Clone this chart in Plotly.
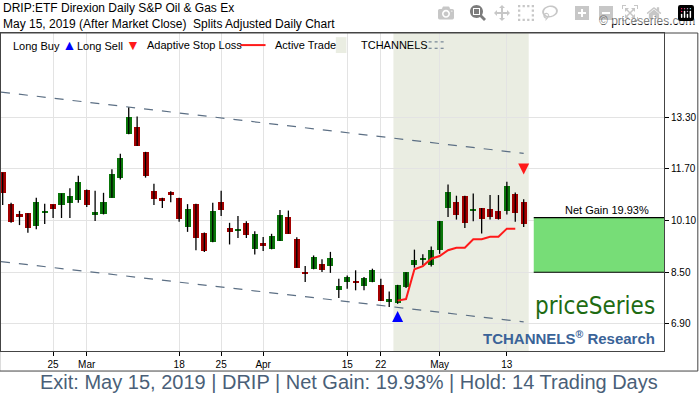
import plotly.graph_objects as go

# daily OHLC, Feb 14 .. May 15 2019 (trading days)
opens = [11.59, 10.60, 10.29, 10.32, 9.93, 10.33, 10.60, 10.57, 10.64, 10.73, 11.06, 10.27, 10.29,
         10.81, 11.41, 12.77, 13.01, 12.21, 11.02, 10.81, 10.97, 10.81, 9.91, 10.60, 9.73, 9.43,
         10.68, 9.87, 9.77, 10.04, 9.22, 9.39, 9.21, 9.47, 10.22, 9.53, 8.52, 8.59, 8.76, 8.68,
         7.94, 8.19, 8.21, 8.07, 8.19, 8.11, 7.59, 7.54, 8.04, 8.71, 8.89, 8.71, 9.18, 10.49,
         10.66, 10.87, 10.41, 10.49, 10.47, 10.41, 10.39, 10.91, 10.66]
closes = [10.94, 10.06, 10.20, 9.87, 10.68, 10.41, 10.45, 10.94, 10.87, 11.30, 10.57, 10.37, 10.66,
          11.55, 12.03, 13.32, 12.41, 11.49, 10.76, 10.70, 10.91, 10.16, 10.47, 9.56, 9.15, 10.40,
          10.42, 9.76, 9.85, 9.65, 9.69, 9.31, 9.62, 10.26, 9.69, 8.64, 8.47, 8.97, 8.58, 8.94,
          8.07, 8.36, 8.17, 8.32, 8.58, 7.61, 7.67, 8.11, 8.50, 8.89, 8.95, 9.20, 10.09, 10.99,
          10.27, 10.04, 10.47, 10.16, 10.22, 10.16, 11.18, 10.32, 9.98]
highs = [11.59, 10.65, 10.40, 10.33, 10.81, 10.62, 10.60, 10.94, 11.10, 11.49, 11.06, 11.02, 10.96,
         11.69, 12.17, 13.60, 13.32, 12.23, 11.24, 10.81, 11.01, 10.81, 10.61, 10.62, 9.73, 10.65,
         11.02, 10.03, 10.24, 10.08, 9.77, 9.59, 9.69, 10.43, 10.41, 9.58, 8.69, 9.02, 8.90, 9.13,
         8.30, 8.40, 8.56, 8.35, 8.61, 8.30, 7.90, 8.11, 8.50, 9.20, 9.06, 9.30, 10.09, 11.22,
         10.87, 10.87, 10.94, 10.49, 10.89, 10.89, 11.30, 10.97, 10.76]
lows = [10.58, 10.03, 9.96, 9.72, 9.83, 9.99, 10.18, 10.18, 10.18, 10.65, 10.52, 10.09, 10.29,
        10.81, 11.37, 12.77, 12.41, 11.43, 10.58, 10.49, 10.67, 10.06, 9.75, 9.18, 9.13, 9.43,
        10.24, 9.36, 9.56, 9.56, 9.05, 9.16, 9.21, 9.47, 9.69, 8.64, 8.20, 8.59, 8.51, 8.48,
        7.70, 7.99, 7.94, 7.94, 8.19, 7.61, 7.42, 7.52, 8.01, 8.64, 8.72, 8.68, 9.07, 10.21,
        10.13, 9.87, 10.08, 9.70, 10.13, 10.13, 10.29, 10.06, 9.90]

# adaptive stop loss during the active trade (from entry day to exit day)
stop_start = 47
stop_loss = [7.62, 7.67, 8.59, 8.69, 8.92, 9.00, 9.18, 9.26, 9.26, 9.52, 9.52, 9.60, 9.60, 9.85, 9.85]

buy_idx, buy_price = 47, 7.30
sell_idx, sell_price = 62, 11.53

# TCHANNELS end points (x index, price)
upper_channel = ([-0.2, 62], [14.08, 12.18])
lower_channel = ([-0.2, 62], [8.83, 6.96])

net_gain_top, net_gain_bottom = 10.19, 8.50

tick_pos = [6, 10, 21, 26, 31, 41, 45, 52, 60]
tick_text = ["25", "Mar", "18", "25", "Apr", "15", "22", "May", "13"]
y_ticks = [6.90, 8.50, 10.10, 11.70, 13.30]

GREEN, RED = "#0a760a", "#a30000"
idx = list(range(len(opens)))

fig = go.Figure()

# active trade shading
fig.add_vrect(x0=stop_start - 0.5, x1=len(opens) - 0.4, fillcolor="#eaede2", line_width=0, layer="below")

# channels
for xs, ys in (upper_channel, lower_channel):
    fig.add_trace(go.Scatter(x=xs, y=ys, mode="lines", line=dict(color="#5c6f84", width=1.2, dash="dash"),
                             hoverinfo="skip"))

# wicks
wx, wy = [], []
for i in idx:
    wx += [i, i, None]
    wy += [lows[i], highs[i], None]
fig.add_trace(go.Scatter(x=wx, y=wy, mode="lines", line=dict(color="black", width=1.3), hoverinfo="skip"))

# bodies
base = [min(o, c) for o, c in zip(opens, closes)]
height = [max(abs(c - o), 0.05) for o, c in zip(opens, closes)]
colors = [GREEN if c >= o else RED for o, c in zip(opens, closes)]
fig.add_trace(go.Bar(x=idx, y=height, base=base, width=0.72, marker=dict(color=colors, line=dict(width=0))))

# stop loss
fig.add_trace(go.Scatter(x=list(range(stop_start, stop_start + len(stop_loss))), y=stop_loss,
                         mode="lines", line=dict(color="#ff1a1a", width=2), hoverinfo="skip"))

# buy / sell arrows
fig.add_trace(go.Scatter(x=[buy_idx], y=[buy_price], mode="markers",
                         marker=dict(symbol="arrow-up", size=11, color="#0000ff")))
fig.add_trace(go.Scatter(x=[sell_idx], y=[sell_price], mode="markers",
                         marker=dict(symbol="arrow-down", size=11, color="#ff1a1a")))

# net gain box
fig.add_shape(type="rect", x0=63.2, x1=79, y0=net_gain_bottom, y1=net_gain_top,
              fillcolor="#77dd77", line_width=0)
for yv in (net_gain_bottom, net_gain_top):
    fig.add_shape(type="line", x0=63.2, x1=79, y0=yv, y1=yv, line=dict(color="black", width=1.2))
fig.add_annotation(x=77.2, y=net_gain_top, text="Net Gain 19.93%", showarrow=False, xanchor="right",
                   yanchor="bottom", font=dict(size=11, color="black"))

# branding
fig.add_annotation(xref="paper", yref="paper", x=0.99, y=0.09, text="priceSeries", showarrow=False,
                   xanchor="right", yanchor="bottom",
                   font=dict(size=24, color="#1e6b12", family="DejaVu Sans Condensed, DejaVu Sans"))
fig.add_annotation(xref="paper", yref="paper", x=0.99, y=0.005, text="<b>TCHANNELS<sup>®</sup> Research</b>",
                   showarrow=False, xanchor="right", yanchor="bottom", font=dict(size=15, color="#3a6398"))

# titles
fig.add_annotation(xref="paper", yref="paper", x=0, y=1, yshift=16, text="DRIP:ETF Direxion Daily S&P Oil & Gas Ex",
                   showarrow=False, xanchor="left", yanchor="bottom", font=dict(size=12, color="black"))
fig.add_annotation(xref="paper", yref="paper", x=0, y=1, yshift=0,
                   text="May 15, 2019 (After Market Close)  Splits Adjusted Daily Chart",
                   showarrow=False, xanchor="left", yanchor="bottom", font=dict(size=12, color="black"))
fig.add_annotation(xref="paper", yref="paper", x=1.05, y=1, yshift=3, text="© priceseries.com",
                   showarrow=False, xanchor="right", yanchor="bottom", font=dict(size=12, color="black"))
fig.add_annotation(xref="paper", yref="paper", x=0.525, y=0, yshift=-44,
                   text="Exit: May 15, 2019 | DRIP | Net Gain: 19.93% | Hold: 14 Trading Days",
                   showarrow=False, xanchor="center", yanchor="bottom", font=dict(size=20, color="#4a5f78"))

# legend row
leg_y = 0.962
legend_items = [
    (0.015, "Long Buy <span style='color:#0000ff;font-size:14px'>▲</span>"),
    (0.112, "Long Sell <span style='color:#ff1a1a;font-size:14px'>▼</span>"),
    (0.217, "Adaptive Stop Loss"),
    (0.411, "Active Trade"),
    (0.54, "TCHANNELS"),
]
for xpos, txt in legend_items:
    fig.add_annotation(xref="paper", yref="paper", x=xpos, y=leg_y, text=txt, showarrow=False,
                       xanchor="left", yanchor="middle", font=dict(size=11, color="black"))
fig.add_shape(type="line", xref="paper", yref="paper", x0=0.361, x1=0.399, y0=leg_y, y1=leg_y,
              line=dict(color="#ff1a1a", width=2))
fig.add_shape(type="rect", xref="paper", yref="paper", x0=0.505, x1=0.521, y0=leg_y - 0.025, y1=leg_y + 0.025,
              fillcolor="#eaede2", line_width=0)
for dy in (-0.01, 0.01):
    fig.add_shape(type="line", xref="paper", yref="paper", x0=0.645, x1=0.672, y0=leg_y + dy, y1=leg_y + dy,
                  line=dict(color="#5c6f84", width=1, dash="dot"))

fig.update_layout(
    width=700, height=400, showlegend=False, bargap=0,
    margin=dict(l=1, r=36, t=33, b=49),
    plot_bgcolor="white", paper_bgcolor="white",
    font=dict(family="Liberation Sans, Arial", size=10, color="black"),
    xaxis=dict(range=[-0.2, 78.7], tickvals=tick_pos, ticktext=tick_text, showgrid=True,
               gridcolor="#e3e3e3", ticks="outside", ticklen=4, tickcolor="black",
               showline=True, linecolor="#444", mirror=True, zeroline=False),
    yaxis=dict(range=[6.06, 15.91], side="right", tickvals=y_ticks, ticktext=[f"{v:.2f}" for v in y_ticks],
               showgrid=True, gridcolor="#e3e3e3", ticks="outside", ticklen=4, tickcolor="black",
               showline=True, linecolor="#444", mirror=True, zeroline=False),
)
# outer frame
fig.add_shape(type="rect", xref="paper", yref="paper", x0=-0.002, x1=1.051, y0=-0.063, y1=1.0,
              line=dict(color="#444", width=1), fillcolor="rgba(0,0,0,0)")

fig.write_html("out.html", post_script="document.body.style.margin='0';document.body.style.overflow='hidden';")
